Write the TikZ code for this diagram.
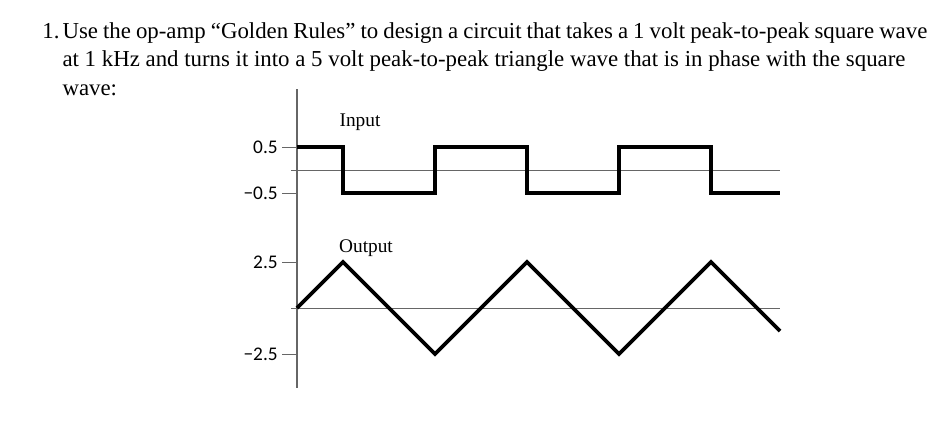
\documentclass[tikz,border=0pt]{standalone}
\usepackage{fontspec}
\setmainfont{Liberation Serif}
\newfontfamily\ticksfont{Carlito}
\begin{document}
\begin{tikzpicture}[x=0.02cm,y=-0.02cm,semithick,
	wave/.style={line width=2.2pt,line join=miter},
	tick/.style={thin,gray!80!black},
	ticklabel/.style={anchor=east,font=\ticksfont\fontsize{11}{13}\selectfont,inner sep=1pt}]

		\useasboundingbox (0,0) rectangle (943,447);

		\node(num) [anchor=base west,font=\fontsize{13}{16}\selectfont] at (36,38) {1.};
		\node(txt) [anchor=north west,font=\fontsize{13}{16.2}\selectfont,text width=17.3cm,align=justify,inner sep=0pt] at (62,22)
		{Use the op-amp ``Golden Rules'' to design a circuit that takes a 1 volt peak-to-peak square wave\linebreak
		at 1 kHz and turns it into a 5 volt peak-to-peak triangle wave that is in phase with the square\\
		wave:};

		% axis
		\coordinate(top) at (297,89);
		\coordinate(bot) at (297,388);
		\draw[gray!80!black] (top) -- (bot);

		% ticks
		\foreach \y/\l/\n in {147/0.5/ta,193/−0.5/tb,262/2.5/tc,354/−2.5/td}{
			\draw[tick] (282,\y) -- (297,\y);
			\node(\n) [ticklabel] at (280,\y) {\l};
		}

		% zero lines
		\draw[tick] (291,170) -- (780,170);
		\draw[tick] (291,308) -- (780,308);

		\node(in)  at (360,122) {\fontsize{11}{13}\selectfont Input};
		\node(out) at (366,248) {\fontsize{11}{13}\selectfont Output};

		% square wave
		\draw[wave] (297,147) -- (343,147) -- (343,193) -- (435,193) -- (435,147) -- (527,147)
			-- (527,193) -- (619,193) -- (619,147) -- (711,147) -- (711,193) -- (780,193);

		% triangle wave
		\draw[wave] (297,308) -- (343,262) -- (435,354) -- (527,262) -- (619,354) -- (711,262) -- (780,331);

	\end{tikzpicture}
\end{document}
